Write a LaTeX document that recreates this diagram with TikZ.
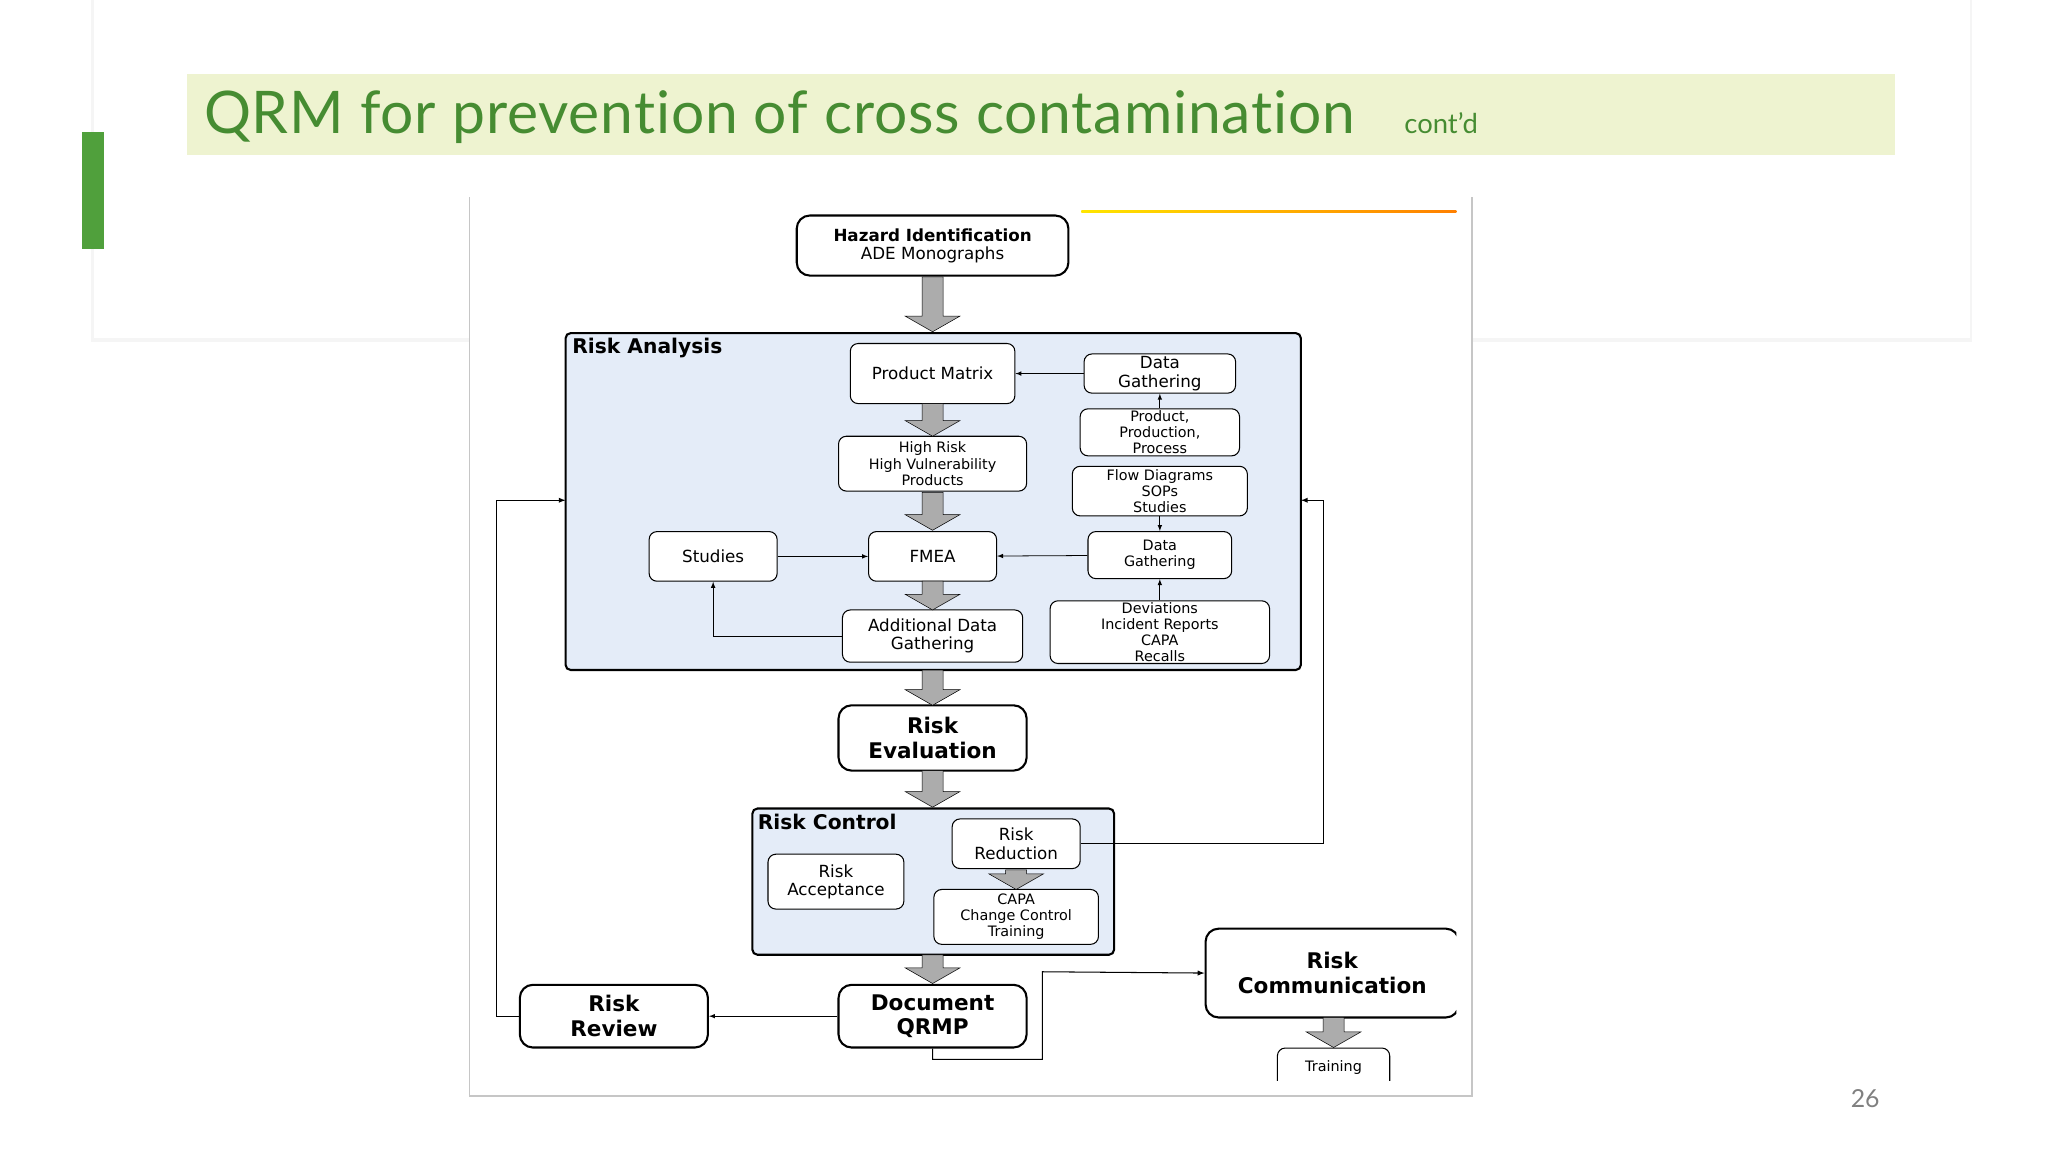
\documentclass[tikz,border=0pt]{standalone}
\usepackage{fontspec}
\setmainfont{DejaVu Sans}
\newfontfamily\titlef[Ligatures=NoCommon,LetterSpace=1.5]{Lato}
\newfontfamily\numf{Lato}
\usetikzlibrary{calc}
\definecolor{tgreen}{RGB}{70,140,50}
\definecolor{band}{RGB}{238,243,208}
\definecolor{bar}{RGB}{80,160,60}
\definecolor{rabg}{RGB}{228,236,248}
\begin{document}
\begin{tikzpicture}[x=1pt,y=-1pt,
 bx/.style={draw,thick,rounded corners=6pt,fill=white,align=center,font=\fontsize{12.8}{14}\selectfont,inner sep=1pt},
 bg/.style={bx,line width=1.6pt,rounded corners=10pt,font=\bfseries\fontsize{16.5}{19}\selectfont},
 sm/.style={bx,font=\fontsize{11}{12.3}\selectfont},
 ar/.style={-latex,semithick},
 grp/.style={draw,line width=1.6pt,rounded corners=4pt,fill=rabg}]
\useasboundingbox (0,0) rectangle (1568,882);
\newcommand{\fatarr}[3]{\filldraw[fill=gray!65,draw=black,thin] (#1-8,#2) -- (#1+8,#2) -- (#1+8,#3-12) -- (#1+21,#3-12) -- (#1,#3) -- (#1-21,#3-12) -- (#1-8,#3-12) -- cycle;}
% slide
\fill[gray!8] (70,0) rectangle (1510,262);
\fill[white] (72,0) rectangle (1508,259);
\fill[band] (143,57) rectangle (1451,119);
\node[anchor=base west,text=tgreen,font=\titlef\fontsize{45}{45}\selectfont,inner sep=0] (title) at (156,102) {QRM for prevention of cross contamination};
\node[anchor=base west,text=tgreen,font=\numf\fontsize{21}{21}\selectfont,inner sep=0] (contd) at (1075,102) {cont’d};
\fill[bar] (63,101) rectangle (80,191);
\node[text=gray,font=\numf\fontsize{19}{19}\selectfont] (pg) at (1428,841) {26};
% frame
\fill[gray!45] (359,151) rectangle (1128,840);
\fill[white] (360,151) rectangle (1126,838);
\shade[left color=yellow!80!orange,right color=orange] (828,161.5) rectangle (1115,163);
\begin{scope}
\clip (360,151) rectangle (1115,827);
\draw[grp] (433,255) rectangle (996,513);
\node[anchor=north west,font=\bfseries\fontsize{15.5}{15}\selectfont,inner sep=2pt] (ra) at (436,257) {Risk Analysis};
\draw[grp] (576,619) rectangle (853,731);
\node[anchor=north west,font=\bfseries\fontsize{15.5}{15}\selectfont,inner sep=2pt] (rc) at (578,621) {Risk Control};
\node[bx,line width=1.6pt,rounded corners=10pt,minimum width=208,minimum height=46] (haz) at (714,188) {\textbf{Hazard Identification}\\ADE Monographs};
\node[bx,minimum width=126,minimum height=46] (pm) at (714,286) {Product Matrix};
\node[bx,minimum width=116,minimum height=30] (dg1) at (888,286) {Data\\Gathering};
\node[sm,minimum width=122,minimum height=36] (ppp) at (888,331) {Product,\\Production,\\Process};
\node[sm,minimum width=134,minimum height=38] (fd) at (888,376) {Flow Diagrams\\SOPs\\Studies};
\node[sm,minimum width=144,minimum height=42] (hr) at (714,355) {High Risk\\High Vulnerability\\Products};
\node[bx,minimum width=98,minimum height=38] (st) at (546,426) {Studies};
\node[bx,minimum width=98,minimum height=38] (fm) at (714,426) {FMEA};
\node[sm,minimum width=110,minimum height=36] (dg2) at (888,425) {Data\\Gathering};
\node[bx,minimum width=138,minimum height=40] (ad) at (714,487) {Additional Data\\Gathering};
\node[sm,minimum width=168,minimum height=48] (dev) at (888,484) {Deviations\\Incident Reports\\CAPA\\Recalls};
\node[bg,minimum width=144,minimum height=50] (re) at (714,565) {Risk\\Evaluation};
\node[bx,minimum width=98,minimum height=38] (rr) at (778,646) {Risk\\Reduction};
\node[bx,minimum width=104,minimum height=42] (rac) at (640,675) {Risk\\Acceptance};
\node[sm,minimum width=126,minimum height=42] (capa) at (778,702) {CAPA\\Change Control\\Training};
\node[bg,minimum width=194,minimum height=68] (com) at (1020,745) {Risk\\Communication};
\node[sm,minimum width=86,minimum height=40,anchor=north,text depth=12pt] (tr) at (1021,802) {Training};
\node[bg,minimum width=144,minimum height=48] (rv) at (470,778) {Risk\\Review};
\node[bg,minimum width=144,minimum height=48] (doc) at (714,778) {Document\\QRMP};
\fatarr{714}{212}{254}
\fatarr{714}{309}{334}
\fatarr{714}{377}{406}
\fatarr{714}{445}{467}
\fatarr{714}{513}{540}
\fatarr{714}{590}{618}
\fatarr{714}{731}{753}
\fatarr{778}{666}{681}
\fatarr{1021}{779}{802}
\draw[ar] (dg1) -- (pm);
\draw[ar] (ppp) -- (dg1);
\draw[ar] (fd) -- (dg2);
\draw[ar] (dev) -- (dg2);
\draw[ar] (dg2) -- (fm);
\draw[ar] (st) -- (fm);
\draw[ar] (ad.west) -| (st.south);
\draw[ar] (doc) -- (rv);
\draw[ar,thick] (rv.west) -| (380,383) -- (433,383);
\draw[ar,thick] (rr.east) -| (1013,383) -- (996,383);
\draw[ar,thick] (doc.south) -- (714,811) -| (798,744) -- (com.west);
\end{scope}
\end{tikzpicture}
\end{document}
